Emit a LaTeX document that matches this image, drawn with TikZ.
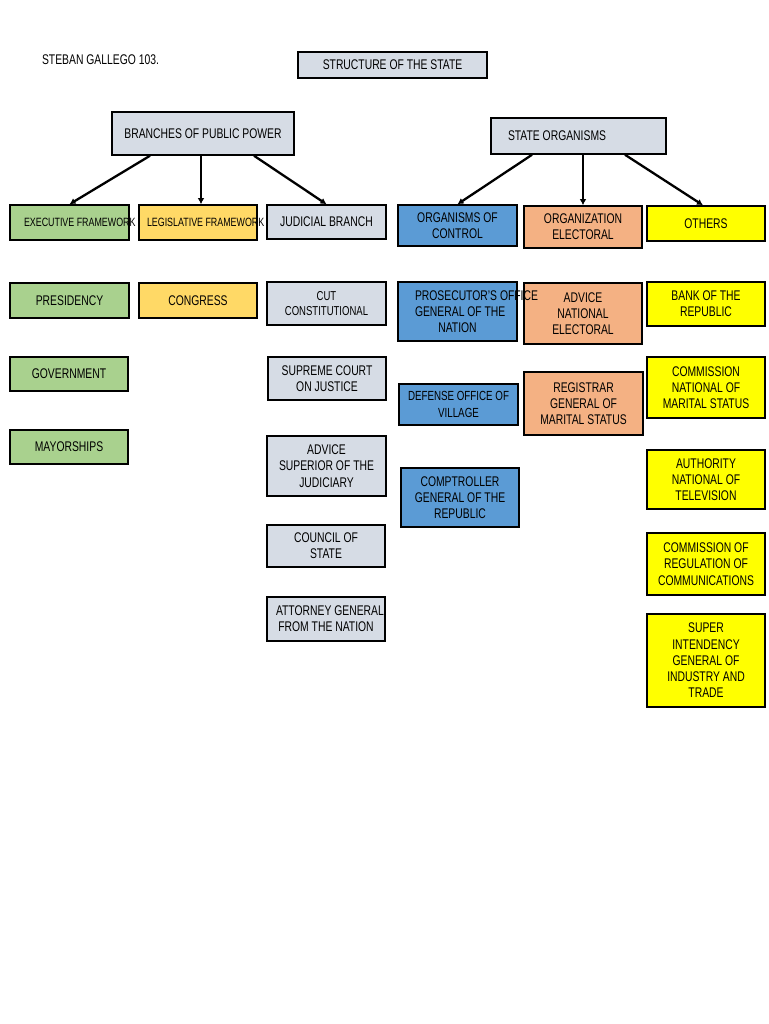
\documentclass[tikz,border=0pt]{standalone}
\usepackage{fontspec}
\setmainfont{Liberation Sans}[FakeStretch=0.74]
\usepackage{xcolor}
\usetikzlibrary{arrows.meta}
\definecolor{stateGreen}{HTML}{A9D18E}
\definecolor{stateGold}{HTML}{FFD966}
\definecolor{stateGray}{HTML}{D6DCE5}
\definecolor{stateBlue}{HTML}{5B9BD5}
\definecolor{stateSalmon}{HTML}{F4B183}
\definecolor{stateYellow}{HTML}{FFFF00}
\tikzset{
  >=Latex,
  % one box per organ; #1 is the fill colour of its branch
  orgbox/.style={
    draw=black,
    line width=1.5pt,
    fill=#1,
    align=center,
    inner xsep=3pt,
    inner ysep=2pt,
    font=\fontsize{14}{16.3}\selectfont
  },
  orgbox/.default=stateGray,
  smalltext/.style={
    font=\fontsize{12}{14}\selectfont
  },
  arrow/.style={
    -{Latex[length=6pt,width=6.5pt]},
    line width=2.3pt,
    draw=black
  }
}
\begin{document}
\begin{tikzpicture}[x=1pt,y=-1pt]
\fill[white] (0,0) rectangle (768,1024);
\useasboundingbox (0,0) rectangle (768,1024);

\node[font=\fontsize{14}{16.3}\selectfont] (author) at (100.5,60) {STEBAN GALLEGO 103.};
\node[orgbox, minimum width=189, minimum height=26] (structure) at (392.5,65) {STRUCTURE OF THE STATE};

\node[orgbox, minimum width=182, minimum height=43] (branches) at (203,133.5) {BRANCHES OF PUBLIC POWER};
\node[orgbox, minimum width=175, minimum height=36, inner xsep=17pt] (organisms) at (578.5,136) {\makebox[141pt][l]{STATE ORGANISMS}};

% branches of public power
\node[orgbox=stateGreen, smalltext, minimum width=119, minimum height=35, inner xsep=14pt] (executive) at (69.5,222.5) {\makebox[91pt][l]{EXECUTIVE FRAMEWORK}};
\node[orgbox=stateGold, smalltext, minimum width=118, minimum height=35, inner xsep=8pt] (legislative) at (198,222.5) {\makebox[102pt][l]{LEGISLATIVE FRAMEWORK}};
\node[orgbox, minimum width=119, minimum height=34] (judicial) at (326.5,222) {JUDICIAL BRANCH};

\node[orgbox=stateGreen, minimum width=119, minimum height=35] (presidency) at (69.5,300.5) {PRESIDENCY};
\node[orgbox=stateGreen, minimum width=118, minimum height=34] (government) at (69,374) {GOVERNMENT};
\node[orgbox=stateGreen, minimum width=118, minimum height=34] (mayorships) at (69,447) {MAYORSHIPS};

\node[orgbox=stateGold, minimum width=118, minimum height=35] (congress) at (198,300.5) {CONGRESS};

\node[orgbox, minimum width=119, minimum height=43, font=\fontsize{12.9}{15}\selectfont] (cut) at (326.5,303.5) {CUT\\CONSTITUTIONAL};
\node[orgbox, minimum width=118, minimum height=43] (supreme) at (327,378.5) {SUPREME COURT\\ON JUSTICE};
\node[orgbox, minimum width=119, minimum height=60] (advsuperior) at (326.5,466) {ADVICE\\SUPERIOR OF THE\\JUDICIARY};
\node[orgbox, minimum width=118, minimum height=42] (council) at (326,546) {COUNCIL OF\\STATE};
\node[orgbox, minimum width=118, minimum height=44, inner xsep=9pt] (attorney) at (326,619) {\makebox[100pt][l]{ATTORNEY GENERAL}\\FROM THE NATION};

% state organisms
\node[orgbox=stateBlue, minimum width=119, minimum height=41] (control) at (457.5,225.5) {ORGANISMS OF\\CONTROL};
\node[orgbox=stateSalmon, minimum width=118, minimum height=42] (electoral) at (583,227) {ORGANIZATION\\ELECTORAL};
\node[orgbox=stateYellow, minimum width=118, minimum height=35] (others) at (706,223.5) {OTHERS};

\node[orgbox=stateSalmon, minimum width=118, minimum height=61] (advnational) at (583,313.5) {ADVICE\\NATIONAL\\ELECTORAL};
\node[orgbox=stateSalmon, minimum width=119, minimum height=63] (registrar) at (583.5,403.5) {REGISTRAR\\GENERAL OF\\MARITAL STATUS};

\node[orgbox=stateBlue, minimum width=119, minimum height=59, inner xsep=17pt] (prosecutor) at (457.5,311.5) {\makebox[85pt][l]{PROSECUTOR'S OFFICE}\\\makebox[85pt][l]{GENERAL OF THE}\\NATION};
\node[orgbox=stateBlue, minimum width=119, minimum height=41, font=\fontsize{13.2}{16.3}\selectfont] (defense) at (458.5,404.5) {DEFENSE OFFICE OF\\VILLAGE};
\node[orgbox=stateBlue, minimum width=118, minimum height=59] (comptroller) at (460,497.5) {COMPTROLLER\\GENERAL OF THE\\REPUBLIC};

\node[orgbox=stateYellow, minimum width=118, minimum height=44] (bank) at (706,304) {BANK OF THE\\REPUBLIC};
\node[orgbox=stateYellow, minimum width=118, minimum height=61] (commnational) at (706,387.5) {COMMISSION\\NATIONAL OF\\MARITAL STATUS};
\node[orgbox=stateYellow, minimum width=118, minimum height=59] (authority) at (706,479.5) {AUTHORITY\\NATIONAL OF\\TELEVISION};
\node[orgbox=stateYellow, minimum width=118, minimum height=62] (commregulation) at (706,564) {COMMISSION OF\\REGULATION OF\\COMMUNICATIONS};
\node[orgbox=stateYellow, minimum width=118, minimum height=93] (superintendency) at (706,660.5) {SUPER\\INTENDENCY\\GENERAL OF\\INDUSTRY AND\\TRADE};

\draw[arrow] ([xshift=-53]branches.south) -- (executive.north);
\draw[arrow] ([xshift=-2]branches.south) -- ([xshift=3]legislative.north);
\draw[arrow] ([xshift=51]branches.south) -- (judicial.north);
\draw[arrow] ([xshift=-46.5]organisms.south) -- (control.north);
\draw[arrow] ([xshift=4.5]organisms.south) -- (electoral.north);
\draw[arrow] ([xshift=46.5]organisms.south) -- ([xshift=-3]others.north);

\end{tikzpicture}
\end{document}
